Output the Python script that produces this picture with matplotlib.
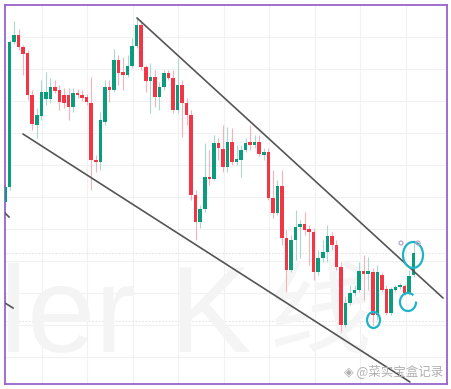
import matplotlib
matplotlib.use("Agg")
import matplotlib.pyplot as plt
from matplotlib.patches import Ellipse, Arc
import numpy as np

# ---- candle data (price units) ----
opens = [198, 213, 358, 365, 353, 347, 305, 275, 284, 301, 301, 313, 310, 305, 305, 293, 307, 305, 303, 297,
         240, 238, 278, 313, 310, 340, 328, 325, 334, 354, 375, 333, 319, 323, 303, 313, 327, 322, 290, 315,
         297, 285, 205, 178, 191, 223, 221, 257, 251, 233, 258, 238, 240, 250, 258, 255, 258, 245, 248, 202,
         187, 214, 162, 130, 160, 173, 176, 171, 168, 128, 142, 148, 164, 155, 133, 75, 97, 107, 110, 129,
         126, 128, 85, 125, 111, 87, 110, 113, 114, 107, 125]
closes = [213, 358, 365, 353, 346, 305, 276, 285, 308, 308, 313, 309, 298, 297, 293, 307, 305, 302, 298, 240,
          238, 280, 313, 310, 340, 327, 325, 334, 354, 375, 333, 319, 323, 303, 313, 327, 322, 290, 315, 297,
          285, 205, 178, 191, 223, 221, 257, 252, 233, 258, 238, 241, 250, 257, 255, 258, 246, 248, 202, 187,
          214, 162, 130, 160, 173, 176, 170, 168, 128, 142, 148, 164, 155, 133, 75, 97, 107, 110, 129, 126,
          129, 85, 128, 110, 87, 111, 113, 114, 107, 124, 147]
highs = [215, 360, 379, 371, 355, 350, 310, 292, 320, 328, 322, 320, 315, 312, 312, 312, 311, 310, 306, 323,
         245, 288, 320, 320, 351, 345, 343, 345, 362, 383, 380, 335, 337, 330, 318, 330, 330, 330, 342, 320,
         302, 290, 210, 195, 257, 250, 265, 262, 275, 273, 272, 255, 255, 262, 275, 265, 265, 252, 252, 230,
         220, 230, 170, 165, 190, 180, 188, 175, 172, 150, 160, 175, 168, 160, 138, 104, 115, 115, 138, 145,
         143, 132, 135, 128, 115, 113, 115, 117, 116, 130, 160]
lows = [195, 210, 356, 350, 325, 300, 270, 262, 280, 295, 297, 307, 290, 292, 280, 288, 302, 299, 295, 210,
        228, 230, 275, 298, 308, 315, 310, 323, 332, 352, 330, 308, 287, 293, 290, 310, 320, 287, 287, 263,
        275, 200, 160, 172, 188, 215, 220, 240, 228, 228, 235, 235, 223, 248, 250, 252, 244, 240, 200, 182,
        185, 155, 108, 128, 140, 142, 165, 135, 120, 125, 138, 138, 150, 130, 68, 73, 95, 104, 108, 100,
        110, 75, 80, 108, 85, 85, 108, 111, 105, 105, 123]

# trend lines (index, price)
upper_line_x = [29.07, 96.48]
upper_line_y = [382, 102]
lower_line_x = [3.96, 89.2]
lower_line_y = [266, 18]

PX0, PXS = 5.0, 4.54          # pixel x of candle 0, pixel spacing
def px2x(px):
    return (px - PX0) / PXS
def py2y(py):
    return 400 - py

fig = plt.figure(figsize=(4.52, 3.89), dpi=100)
fig.patch.set_facecolor("white")
ax = fig.add_axes([5 / 452, 5 / 389, 442 / 452, 379 / 389])
ax.set_xlim(0, px2x(447))
ax.set_ylim(py2y(384), py2y(5))
ax.set_xticks([])
ax.set_yticks([])
for s in ax.spines.values():
    s.set_color("#9a62cc")
    s.set_linewidth(1.3)

# grid
for gx in np.arange(42, 447, 45.5):
    ax.axvline(px2x(gx), color="#f1f1f1", lw=0.8, zorder=0)
for gy in np.arange(37, 384, 32):
    ax.axhline(py2y(gy), color="#f1f1f1", lw=0.8, zorder=0)
for gy in [253, 321]:
    ax.axhline(py2y(gy), color="#e4e4e4", lw=0.8, ls=(0, (1.5, 1.5)), zorder=0)

# watermark
ax.text(px2x(0), py2y(352), "ler K", fontsize=88, family="Liberation Sans",
        color="#f4f4f4", ha="left", va="baseline", zorder=0.5)
ax.text(px2x(268), py2y(345), "线", fontsize=74, family=["Noto Sans CJK SC", "DejaVu Sans"],
        color="#f5f5f5", ha="left", va="baseline", zorder=0.5)

# candles
o = np.array(opens); c = np.array(closes); h = np.array(highs); l = np.array(lows)
x = np.arange(len(o))
up = c >= o
green, red = "#0b9b7d", "#f23645"
ax.vlines(x[up], l[up], h[up], color="#a9d9cf", lw=0.8, zorder=2)
ax.vlines(x[~up], l[~up], h[~up], color="#f4b3bb", lw=0.8, zorder=2)
body = np.where(np.abs(c - o) < 2, np.sign(c - o + 0.01) * 2, c - o)
ax.bar(x[up], body[up], bottom=o[up], width=0.78, color=green, zorder=3)
ax.bar(x[~up], body[~up], bottom=o[~up], width=0.78, color=red, zorder=3)

# trend lines
ax.plot(upper_line_x, upper_line_y, color="#555555", lw=1.2, zorder=4, solid_capstyle="round")
ax.plot(lower_line_x, lower_line_y, color="#555555", lw=1.2, zorder=4, solid_capstyle="round")
ax.plot([px2x(5), px2x(9)], [py2y(213), py2y(217)], color="#555555", lw=1.2, zorder=4)
ax.plot([px2x(5), px2x(13)], [py2y(303), py2y(308)], color="#555555", lw=1.2, zorder=4)

# cyan marks
cyan = "#1fb3c8"
ax.add_patch(Ellipse((px2x(373.5), py2y(320)), 13 / PXS, 16, fill=False, ec=cyan, lw=1.6, zorder=5))
ax.add_patch(Arc((px2x(408), py2y(302)), 16 / PXS, 18, theta1=80, theta2=375, ec=cyan, lw=1.6, zorder=5))
ax.add_patch(Ellipse((px2x(413), py2y(255)), 20 / PXS, 26, fill=False, ec=cyan, lw=1.6, zorder=5))
for hx in [401, 418]:
    ax.add_patch(Ellipse((px2x(hx), py2y(243)), 4 / PXS, 4, fill=False, ec="#b9a6c9", lw=0.9, zorder=6))

# signature
ax.text(px2x(443), py2y(371), "◈ @菜实宝盒记录", fontsize=9,
        family=["Noto Sans CJK SC", "DejaVu Sans"], color="#b0b0b0",
        ha="right", va="center", zorder=6)

fig.savefig("out.png", dpi=100)
